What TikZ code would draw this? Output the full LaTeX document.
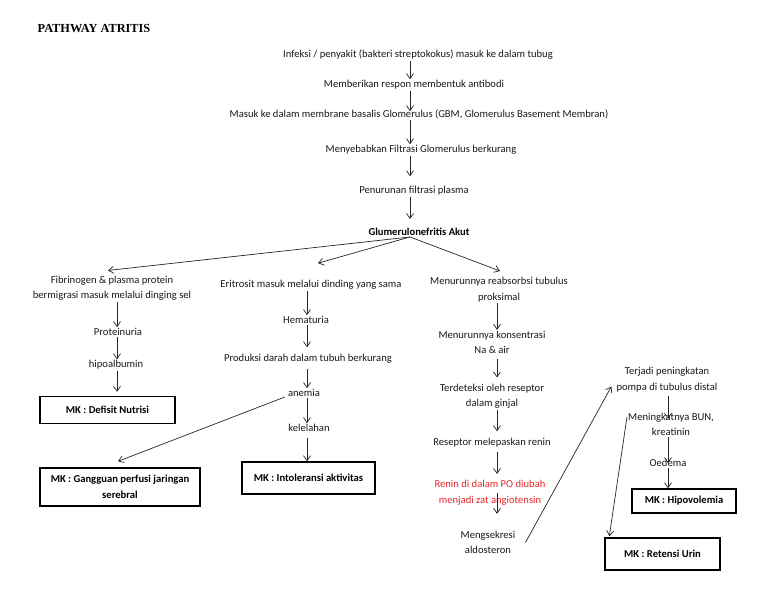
\documentclass[tikz,border=0pt]{standalone}
\usepackage{fontspec}
\setmainfont{Carlito}
\newfontfamily\titlefont{Liberation Serif}
\usetikzlibrary{arrows.meta,calc}
\begin{document}
\begin{tikzpicture}[x=1pt,y=-1pt,
  txt/.style={inner sep=1pt, font=\fontsize{10.6}{15.5}\selectfont, align=center, text=black!90},
  mk/.style={draw=black, line width=1.4pt, font=\bfseries\fontsize{10.6}{15.5}\selectfont, align=center, inner sep=2pt, text=black},
  arr/.style={-{Straight Barb[length=5pt,width=7pt]}, draw=black!85, line width=0.7pt}]
\useasboundingbox (0,0) rectangle (768,594);
\fill[white] (0,0) rectangle (768,594);
% title
\node[inner sep=0pt, font=\titlefont\bfseries\fontsize{12.3}{14}\selectfont] (title) at (94,29) {PATHWAY ATRITIS};
% column x
\coordinate (cx) at (410,0);
\coordinate (lx) at (117,0);
\coordinate (mx) at (307,0);
\coordinate (rx) at (497,0);
\coordinate (fx) at (668,0);
% main chain
\node[txt] (t1) at (418,55) {Infeksi / penyakit (bakteri streptokokus) masuk ke dalam tubug};
\node[txt] (t2) at (414,85) {Memberikan respon membentuk antibodi};
\node[txt] (t3) at (419,114) {Masuk ke dalam membrane basalis Glomerulus (GBM, Glomerulus Basement Membran)};
\node[txt] (t4) at (421,150) {Menyebabkan Filtrasi Glomerulus berkurang};
\node[txt] (t5) at (414,191) {Penurunan filtrasi plasma};
\node[txt, font=\bfseries\fontsize{10.6}{15.5}\selectfont, text=black] (t6) at (419,232) {Glumerulonefritis Akut};
% left column
\node[txt] (f) at (112,288) {Fibrinogen \& plasma protein\\bermigrasi masuk melalui dinging sel};
\node[txt] (p) at (118,332) {Proteinuria};
\node[txt] (h) at (116,365) {hipoalbumin};
\node[mk, minimum width=135pt, minimum height=27pt] (d) at (107.5,410) {MK : Defisit Nutrisi};
\node[mk, minimum width=160pt, minimum height=38pt] (g) at (120,487) {MK : Gangguan perfusi jaringan\\serebral};
% middle column
\node[txt] (e) at (311,285) {Eritrosit masuk melalui dinding yang sama};
\node[txt] (hm) at (306,320) {Hematuria};
\node[txt] (pd) at (308,359) {Produksi darah dalam tubuh berkurang};
\node[txt] (an) at (304,393) {anemia};
\node[txt] (kl) at (309,428) {kelelahan};
\node[mk, minimum width=133pt, minimum height=32pt] (i) at (308.5,478) {MK : Intoleransi aktivitas};
% right column
\node[txt] (r1) at (499,289.5) {Menurunnya reabsorbsi tubulus\\proksimal};
\node[txt] (r2) at (492,342.5) {Menurunnya konsentrasi\\Na \& air};
\node[txt] (r3) at (492,396) {Terdeteksi oleh reseptor\\dalam ginjal};
\node[txt] (r4) at (492,443) {Reseptor melepaskan renin};
\node[txt, text={rgb,255:red,232;green,38;blue,42}] (r5) at (490,492.5) {Renin di dalam PO diubah\\menjadi zat angiotensin};
\node[txt] (r6) at (488,542.5) {Mengsekresi\\aldosteron};
% far right column
\node[txt] (p1) at (667,379.5) {Terjadi peningkatan\\pompa di tubulus distal};
\node[txt] (b1) at (671,424.5) {Meningkatnya BUN,\\kreatinin};
\node[txt] (oe) at (668,463) {Oedema};
\node[mk, minimum width=104pt, minimum height=24pt] (hp) at (684,501) {MK : Hipovolemia};
\node[mk, minimum width=115pt, minimum height=32pt] (rt) at (662.5,554) {MK : Retensi Urin};
% main arrows
\draw[arr] (t1.south -| cx) -- (t2.north -| cx);
\draw[arr, shorten >=-3pt] (t2.south -| cx) -- (t3.north -| cx);
\draw[arr] (t3.south -| cx) -- (t4.north -| cx);
\draw[arr, shorten >=9pt] (t4.south -| cx) -- (t5.north -| cx);
\draw[arr, shorten >=8pt] (t5.south -| cx) -- (t6.north -| cx);
% branches
\draw[arr] (t6.south -| cx) -- ($(f.north)+(-4,-4)$);
\draw[arr] (t6.south -| cx) -- ($(e.north)+(7,-16)$);
\draw[arr] (t6.south -| cx) -- ($(r1.north)+(1,-5)$);
% left arrows
\draw[arr] (f.south -| lx) -- (p.north -| lx);
\draw[arr] (p.south -| lx) -- (h.north -| lx);
\draw[arr, shorten >=4pt] (h.south -| lx) -- (d.north -| lx);
% middle arrows
\draw[arr] (e.south -| mx) -- (hm.north -| mx);
\draw[arr, shorten >=6pt] (hm.south -| mx) -- (pd.north -| mx);
\draw[arr, shorten <=4pt] (pd.south -| mx) -- (an.north -| mx);
\draw[arr] (an.south -| mx) -- (kl.north -| mx);
\draw[arr, shorten <=5pt] (kl.south -| mx) -- (i.north -| mx);
\draw[arr] ($(an.west)+(-2,4)$) -- ($(g.north)+(-2,-6)$);
% right arrows
\draw[arr] (r1.south -| rx) -- (r2.north -| rx);
\draw[arr, shorten <=4pt, shorten >=5pt] (r2.south -| rx) -- (r3.north -| rx);
\draw[arr, shorten >=6pt] (r3.south -| rx) -- (r4.north -| rx);
\draw[arr, shorten <=3pt, shorten >=5pt] (r4.south -| rx) -- (r5.north -| rx);
\draw[arr] (r5.center -| rx) -- ($(r6.north -| rx)+(0,-16)$);
\draw[arr] ($(r6.east)+(9,0)$) -- ($(p1.west)+(-4,7)$);
% far right arrows
\draw[arr, shorten <=3pt, shorten >=-7pt] (p1.south -| fx) -- (b1.north -| fx);
\draw[arr, shorten >=-5pt] (b1.south -| fx) -- (oe.north -| fx);
\draw[arr] (oe.south -| fx) -- (hp.north -| fx);
\draw[arr] ($(b1.north west)+(0,5)$) -- ($(rt.north west)+(5,-1)$);
\end{tikzpicture}
\end{document}
